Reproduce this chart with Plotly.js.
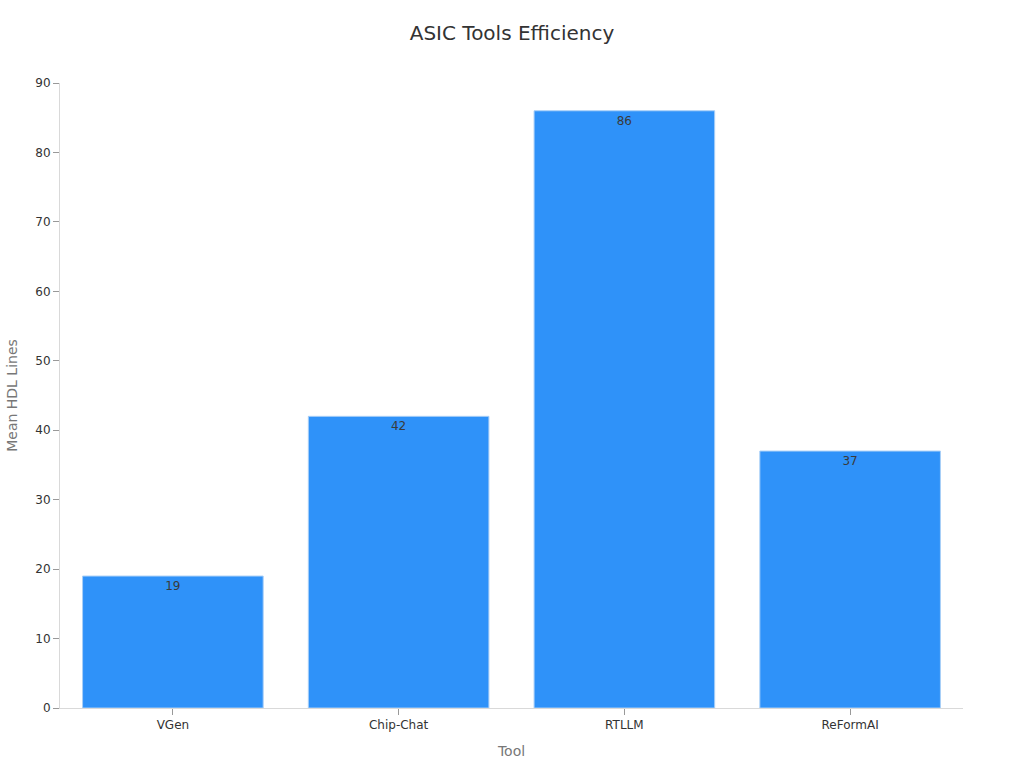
<!DOCTYPE html>
<html>
<head>
<meta charset="utf-8">
<script src="https://cdn.plot.ly/plotly-3.0.1.min.js"></script>
<style>
  html, body { margin: 0; padding: 0; background: #fff; }
  #chart { width: 1024px; height: 768px; }
</style>
</head>
<body>
<div id="chart"></div>
<script>
// ASIC tool comparison: mean HDL lines per tool
const tools = ['VGen', 'Chip-Chat', 'RTLLM', 'ReFormAI'];
const meanHdlLines = [19, 42, 86, 37];
const yTicks = [0, 10, 20, 30, 40, 50, 60, 70, 80, 90];

const trace = {
  type: 'bar',
  x: tools,
  y: meanHdlLines,
  text: meanHdlLines.map(String),
  textposition: 'inside',
  insidetextanchor: 'end',
  textfont: { family: 'DejaVu Sans, sans-serif', size: 12, color: '#3a3a3a' },
  marker: {
    color: '#2f92f9',
    line: { color: '#a9cff7', width: 1 }
  },
  hoverinfo: 'x+y'
};

const layout = {
  width: 1024,
  height: 768,
  paper_bgcolor: '#fff',
  plot_bgcolor: '#fff',
  margin: { l: 60, r: 61, t: 83, b: 60 },
  bargap: 0.2,
  showlegend: false,
  font: { family: 'DejaVu Sans, sans-serif', color: '#333' },
  title: {
    text: 'ASIC Tools Efficiency',
    font: { family: 'DejaVu Sans, sans-serif', size: 20, color: '#333' },
    x: 0.5,
    xanchor: 'center',
    y: 0.957,
    yanchor: 'middle'
  },
  xaxis: {
    title: { text: 'Tool', font: { size: 14, color: '#777' }, standoff: 14 },
    tickfont: { size: 12, color: '#333' },
    showline: true,
    linecolor: '#d9d9d9',
    ticks: 'outside',
    tickcolor: '#999',
    ticklen: 6,
    showgrid: false,
    zeroline: false
  },
  yaxis: {
    title: { text: 'Mean HDL Lines', font: { size: 14, color: '#777' }, standoff: 14 },
    tickfont: { size: 12, color: '#333' },
    range: [0, 90],
    tickvals: yTicks,
    showline: true,
    linecolor: '#d9d9d9',
    ticks: 'outside',
    tickcolor: '#999',
    ticklen: 6,
    showgrid: false,
    zeroline: false
  }
};

Plotly.newPlot('chart', [trace], layout, { displayModeBar: false, staticPlot: true });
</script>
</body>
</html>
